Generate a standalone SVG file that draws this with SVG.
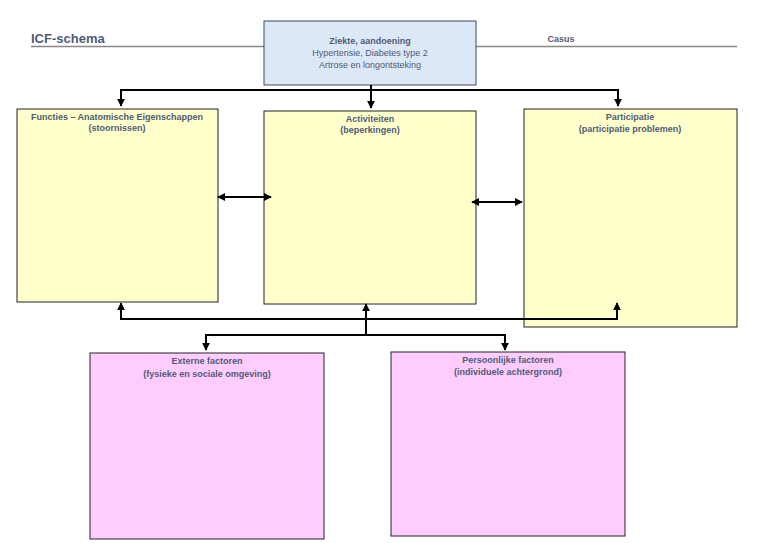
<svg xmlns="http://www.w3.org/2000/svg" width="768" height="543" viewBox="0 0 768 543">
<style>
text{font-family:"Liberation Sans",Arial,sans-serif;font-size:9px;fill:#4f5b77;text-anchor:middle}
.b{font-weight:bold}
.y{fill:#ffffcc;stroke:#222;stroke-width:1}
.p{fill:#ffccff;stroke:#222;stroke-width:1}
.c{fill:none;stroke:#000;stroke-width:2}
</style>
<defs><marker id="a" viewBox="0 0 10 10" refX="9" refY="5" markerWidth="4" markerHeight="4" orient="auto-start-reverse"><path d="M0,0L10,5L0,10z" fill="#000"/></marker></defs>
<rect width="768" height="543" fill="#fff"/>
<g id="header">
<text x="31" y="43" class="b" style="font-size:13px;text-anchor:start">ICF-schema</text>
<text x="561" y="42" class="b">Casus</text>
<line x1="31" y1="46.5" x2="265" y2="46.5" stroke="#888" stroke-width="1.5"/>
<line x1="476" y1="46.5" x2="737" y2="46.5" stroke="#888" stroke-width="1.5"/>
</g>
<g id="ziekte"><rect x="264" y="21" width="212" height="64" fill="#dce8f5" stroke="#3a4a6a"/>
<text x="370" y="44" class="b">Ziekte, aandoening</text><text x="370" y="56">Hypertensie, Diabetes type 2</text><text x="370" y="68">Artrose en longontsteking</text></g>
<g id="functies"><rect x="17" y="109" width="201" height="193" class="y"/>
<text x="117" y="120" class="b">Functies – Anatomische Eigenschappen</text><text x="117" y="131" class="b">(stoornissen)</text></g>
<g id="activiteiten"><rect x="264" y="111" width="212" height="193" class="y"/>
<text x="370" y="122" class="b">Activiteiten</text><text x="370" y="133" class="b">(beperkingen)</text></g>
<g id="participatie"><rect x="524" y="109" width="213" height="218" class="y"/>
<text x="630" y="120" class="b">Participatie</text><text x="630" y="132" class="b">(participatie problemen)</text></g>
<g id="externe"><rect x="90" y="353" width="234" height="186" class="p"/>
<text x="207" y="364" class="b">Externe factoren</text><text x="207" y="377" class="b">(fysieke en sociale omgeving)</text></g>
<g id="persoonlijk"><rect x="391" y="352" width="234" height="184" class="p"/>
<text x="508" y="363" class="b">Persoonlijke factoren</text><text x="508" y="375" class="b">(individuele achtergrond)</text></g>
<g id="connectors">
<line x1="371" y1="85" x2="371" y2="108" class="c" marker-end="url(#a)"/>
<polyline points="121,106 121,90 618,90 618,106" class="c" marker-start="url(#a)" marker-end="url(#a)"/>
<line x1="218" y1="197" x2="271" y2="197" class="c" marker-start="url(#a)" marker-end="url(#a)"/>
<line x1="472" y1="202" x2="522" y2="202" class="c" marker-start="url(#a)" marker-end="url(#a)"/>
<polyline points="121,303 121,319 617,319 617,303" class="c" marker-start="url(#a)" marker-end="url(#a)"/>
<line x1="366" y1="335" x2="366" y2="304" class="c" marker-end="url(#a)"/>
<polyline points="206,350 206,335 505,335 505,350" class="c" marker-start="url(#a)" marker-end="url(#a)"/>
</g>
</svg>
